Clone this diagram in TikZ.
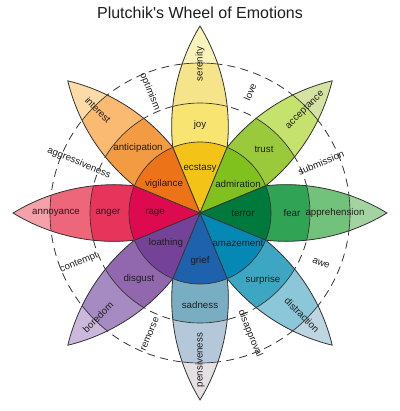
\documentclass[tikz,border=0pt]{standalone}
\usepackage{fontspec}
\setmainfont{Liberation Sans}

% intense / basic / mild / tip colours of the eight petals
\definecolor{cEcstasy}{HTML}{F3C317}
\definecolor{cJoy}{HTML}{F8E470}
\definecolor{cSerenity}{HTML}{F6E48A}
\definecolor{tSerenity}{HTML}{FAF4BC}
\definecolor{cAdmiration}{HTML}{80C11E}
\definecolor{cTrust}{HTML}{9ACA3C}
\definecolor{cAcceptance}{HTML}{C5E26F}
\definecolor{tAcceptance}{HTML}{D5E3A2}
\definecolor{cTerror}{HTML}{00793C}
\definecolor{cFear}{HTML}{31A354}
\definecolor{cApprehension}{HTML}{72C27B}
\definecolor{tApprehension}{HTML}{A2D3A0}
\definecolor{cAmazement}{HTML}{0588B4}
\definecolor{cSurprise}{HTML}{3DA7C3}
\definecolor{cDistraction}{HTML}{8BC7D9}
\definecolor{tDistraction}{HTML}{BDD6E1}
\definecolor{cGrief}{HTML}{1E61AC}
\definecolor{cSadness}{HTML}{79ADC2}
\definecolor{cPensiveness}{HTML}{B5C8DA}
\definecolor{tPensiveness}{HTML}{E4E0E3}
\definecolor{cLoathing}{HTML}{744399}
\definecolor{cDisgust}{HTML}{9168AE}
\definecolor{cBoredom}{HTML}{A68AC2}
\definecolor{tBoredom}{HTML}{CDB8DD}
\definecolor{cRage}{HTML}{DE0A4F}
\definecolor{cAnger}{HTML}{E6345B}
\definecolor{cAnnoyance}{HTML}{EE6679}
\definecolor{tAnnoyance}{HTML}{F5A1A9}
\definecolor{cVigilance}{HTML}{EC7318}
\definecolor{cAnticipation}{HTML}{F39B42}
\definecolor{cInterest}{HTML}{FBBA72}
\definecolor{tInterest}{HTML}{FDDBA8}
\definecolor{inkgray}{HTML}{333333}
\definecolor{textgray}{HTML}{1E1E1E}

\tikzset{every picture/.style={line width=0.75pt}}
\tikzset{
  petal/.style={draw=inkgray, line width=0.6pt},
  band/.style={draw=inkgray, line width=0.5pt},
  ring/.style={draw=inkgray, line width=0.6pt, dash pattern={on 6pt off 4pt}},
  lbl/.style={inner sep=0.75pt, text=textgray, font=\fontsize{7.3}{8.5}\selectfont},
  headline/.style={inner sep=0.75pt, text=textgray, font=\fontsize{12}{14}\selectfont},
}

\begin{document}
\begin{tikzpicture}[x=0.75pt,y=0.75pt]
\useasboundingbox (-200,-198) rectangle (200,213);

%Shape: Circle [dashed rings]
\draw [ring] (0,0) circle [radius=110] (0,0) circle [radius=150] ;

%Shape: Petals
\foreach \a/\ci/\cb/\cm/\ct in {90/cEcstasy/cJoy/cSerenity/tSerenity,
    45/cAdmiration/cTrust/cAcceptance/tAcceptance,
    0/cTerror/cFear/cApprehension/tApprehension,
    -45/cAmazement/cSurprise/cDistraction/tDistraction,
    -90/cGrief/cSadness/cPensiveness/tPensiveness,
    -135/cLoathing/cDisgust/cBoredom/tBoredom,
    180/cRage/cAnger/cAnnoyance/tAnnoyance,
    135/cVigilance/cAnticipation/cInterest/tInterest}{
  \begin{scope}[rotate=\a]
    \begin{scope}
      \clip (0,0) -- (-22.5:71) arc [start angle=-96.12, end angle=-58.62, radius=193.5]
        arc [start angle=58.62, end angle=96.12, radius=193.5] -- cycle ;
      \fill [\ct] (0,0) circle [radius=195] ;
      \fill [\cm] (0,0) circle [radius=150] ;
      \fill [\cb] (0,0) circle [radius=110] ;
      \fill [\ci] (0,0) circle [radius=71] ;
      \draw [band] (0,0) circle [radius=71] (0,0) circle [radius=110] (0,0) circle [radius=150] ;
    \end{scope}
    \draw [petal] (0,0) -- (-22.5:71) arc [start angle=-96.12, end angle=-58.62, radius=193.5]
      arc [start angle=58.62, end angle=96.12, radius=193.5] -- cycle ;
  \end{scope}
}

% Text Node
\node [headline] (title) at (0,200.5) {Plutchik\textquotesingle s Wheel of Emotions};

% Text Node (inner ring)
\node [lbl] (ecstasy) at (0,45) {ecstasy};
\node [lbl] (admiration) at (38,29) {admiration};
\node [lbl] (terror) at (43,0) {terror};
\node [lbl] (amazement) at (38,-30) {amazement};
\node [lbl] (grief) at (0,-47.5) {grief};
\node [lbl] (loathing) at (-34,-30) {loathing};
\node [lbl] (rage) at (-45,0) {rage};
\node [lbl] (vigilance) at (-36,29) {vigilance};

% Text Node (middle ring)
\node [lbl] (joy) at (0,88) {joy};
\node [lbl] (trust) at (64,64) {trust};
\node [lbl] (fear) at (92,0) {fear};
\node [lbl] (surprise) at (63,-67) {surprise};
\node [lbl] (sadness) at (0,-92) {sadness};
\node [lbl] (disgust) at (-61,-66) {disgust};
\node [lbl] (anger) at (-92,0) {anger};
\node [lbl] (anticipation) at (-62,65) {anticipation};

% Text Node (outer ring)
\node [lbl, rotate=90] (serenity) at (0,149) {serenity};
\node [lbl, rotate=45] (acceptance) at (105,103) {acceptance};
\node [lbl] (apprehension) at (135,0) {apprehension};
\node [lbl, rotate=-45] (distraction) at (102,-102) {distraction};
\node [lbl, rotate=90] (pensiveness) at (0,-147) {pensiveness};
\node [lbl, rotate=45] (boredom) at (-102,-104) {boredom};
\node [lbl] (annoyance) at (-144,0) {annoyance};
\node [lbl, rotate=-45] (interest) at (-102,103) {interest};

% Text Node (dyads)
\node [lbl, rotate=67.5] (love) at (67.5:131) {love};
\node [lbl, rotate=22.5] (submission) at (22.5:131) {submission};
\node [lbl, rotate=-22.5] (awe) at (-22.5:131) {awe};
\node [lbl, rotate=-67.5] (disapproval) at (-67.5:131) {disapproval};
\node [lbl, rotate=67.5] (remorse) at (-112.5:131) {remorse};
\node [lbl, rotate=22.5] (contempt) at (-157.5:131) {contempt};
\node [lbl, rotate=-22.5] (aggressiveness) at (157.5:131) {aggressiveness};
\node [lbl, rotate=-67.5] (optimism) at (112.5:131) {optimism};

\end{tikzpicture}
\end{document}
